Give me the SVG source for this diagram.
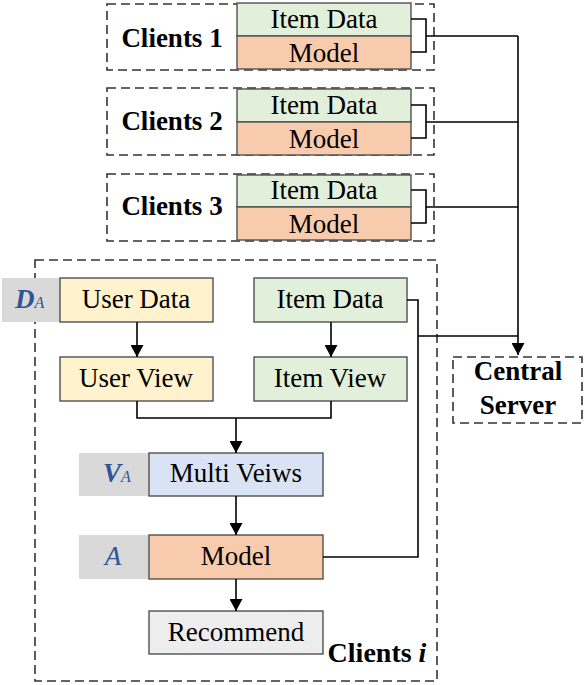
<svg xmlns="http://www.w3.org/2000/svg" width="585" height="685" viewBox="0 0 585 685">
<defs>
<marker id="arr" markerWidth="12" markerHeight="13" viewBox="0 0 12 13" refX="12" refY="6.5" orient="auto" markerUnits="userSpaceOnUse">
<path d="M0,0 L12,6.5 L0,13 Z" fill="#000"/>
</marker>
<style>
.dash{fill:none;stroke:#333;stroke-width:1.6;stroke-dasharray:9,5}
.box{stroke:#505050;stroke-width:1.4}
.green{fill:#E2EFDA}.orange{fill:#F8CBAD}.yellow{fill:#FFF2CC}.blue{fill:#DAE3F3}.lgray{fill:#EDEDED}
.lab{fill:#D9D9D9}
.t{font-family:"Liberation Serif",serif;font-size:27px;fill:#000;text-anchor:middle}
.b{font-family:"Liberation Serif",serif;font-size:27px;font-weight:bold;fill:#000;text-anchor:middle}
.sym{font-family:"Liberation Serif",serif;font-style:italic;fill:#2F5597}
.ln{fill:none;stroke:#000;stroke-width:1.6}
</style>
</defs>
<g id="clients1">
<rect class="dash" x="107" y="4" width="327" height="66"/>
<text class="b" x="172" y="47">Clients 1</text>
<rect class="box green" x="237" y="3" width="174" height="33"/>
<rect class="box orange" x="237" y="36" width="174" height="33"/>
<text class="t" x="324" y="28">Item Data</text>
<text class="t" x="324" y="62">Model</text>
</g>
<g id="clients2">
<rect class="dash" x="107" y="88" width="327" height="67"/>
<text class="b" x="172" y="130">Clients 2</text>
<rect class="box green" x="237" y="89" width="174" height="33"/>
<rect class="box orange" x="237" y="122" width="174" height="33"/>
<text class="t" x="324" y="114">Item Data</text>
<text class="t" x="324" y="148">Model</text>
</g>
<g id="clients3">
<rect class="dash" x="107" y="174" width="327" height="67"/>
<text class="b" x="172" y="215">Clients 3</text>
<rect class="box green" x="237" y="175" width="174" height="32"/>
<rect class="box orange" x="237" y="207" width="174" height="33"/>
<text class="t" x="324" y="199">Item Data</text>
<text class="t" x="324" y="233">Model</text>
</g>
<g id="clientsi">
<rect class="dash" x="35" y="260" width="402" height="421"/>
<text class="b" x="377" y="662" style="font-size:28px">Clients <tspan font-style="italic">i</tspan></text>
</g>
<g id="da">
<rect class="lab" x="2" y="278" width="58" height="44"/>
<text class="sym" x="15" y="308" style="font-size:27px;font-weight:bold">D<tspan style="font-size:16px;font-weight:normal">A</tspan></text>
</g>
<g id="userdata">
<rect class="box yellow" x="60" y="278" width="153" height="44"/>
<text class="t" x="136" y="308">User Data</text>
</g>
<g id="userview">
<rect class="box yellow" x="60" y="357" width="153" height="44"/>
<text class="t" x="136" y="387">User View</text>
</g>
<g id="itemdata">
<rect class="box green" x="254" y="278" width="153" height="44"/>
<text class="t" x="330" y="308">Item Data</text>
</g>
<g id="itemview">
<rect class="box green" x="254" y="357" width="153" height="44"/>
<text class="t" x="330" y="387">Item View</text>
</g>
<g id="va">
<rect class="lab" x="79" y="453" width="70" height="43"/>
<text class="sym" x="103" y="482" style="font-size:27px;font-weight:bold">V<tspan style="font-size:16px;font-weight:normal">A</tspan></text>
</g>
<g id="multiviews">
<rect class="box blue" x="149" y="453" width="174" height="43"/>
<text class="t" x="236" y="482">Multi Veiws</text>
</g>
<g id="a">
<rect class="lab" x="79" y="535" width="70" height="44"/>
<text class="sym" x="113" y="565" style="font-size:27px;text-anchor:middle">A</text>
</g>
<g id="model">
<rect class="box orange" x="149" y="535" width="174" height="44"/>
<text class="t" x="236" y="565">Model</text>
</g>
<g id="recommend">
<rect class="box lgray" x="149" y="611" width="174" height="43"/>
<text class="t" x="236" y="641">Recommend</text>
</g>
<g id="server">
<rect class="dash" x="453" y="357" width="129" height="66"/>
<text class="b" x="518" y="380">Central</text>
<text class="b" x="518" y="414">Server</text>
</g>
<g id="connectors">
<path class="ln" d="M411,19 H426 V52 H411 M426,36 H518"/>
<path class="ln" d="M411,105 H426 V138 H411 M426,122 H518"/>
<path class="ln" d="M411,190 H426 V223 H411 M426,207 H518"/>
<path class="ln" d="M518,36 V355" marker-end="url(#arr)"/>
<path class="ln" d="M407,300 H418 V557 H323 M418,336 H518"/>
<path class="ln" d="M137,322 V357" marker-end="url(#arr)"/>
<path class="ln" d="M331,322 V357" marker-end="url(#arr)"/>
<path class="ln" d="M137,401 V418 H331 V401 M236,418 V453" marker-end="url(#arr)"/>
<path class="ln" d="M236,496 V535" marker-end="url(#arr)"/>
<path class="ln" d="M236,579 V611" marker-end="url(#arr)"/>
</g>
</svg>
